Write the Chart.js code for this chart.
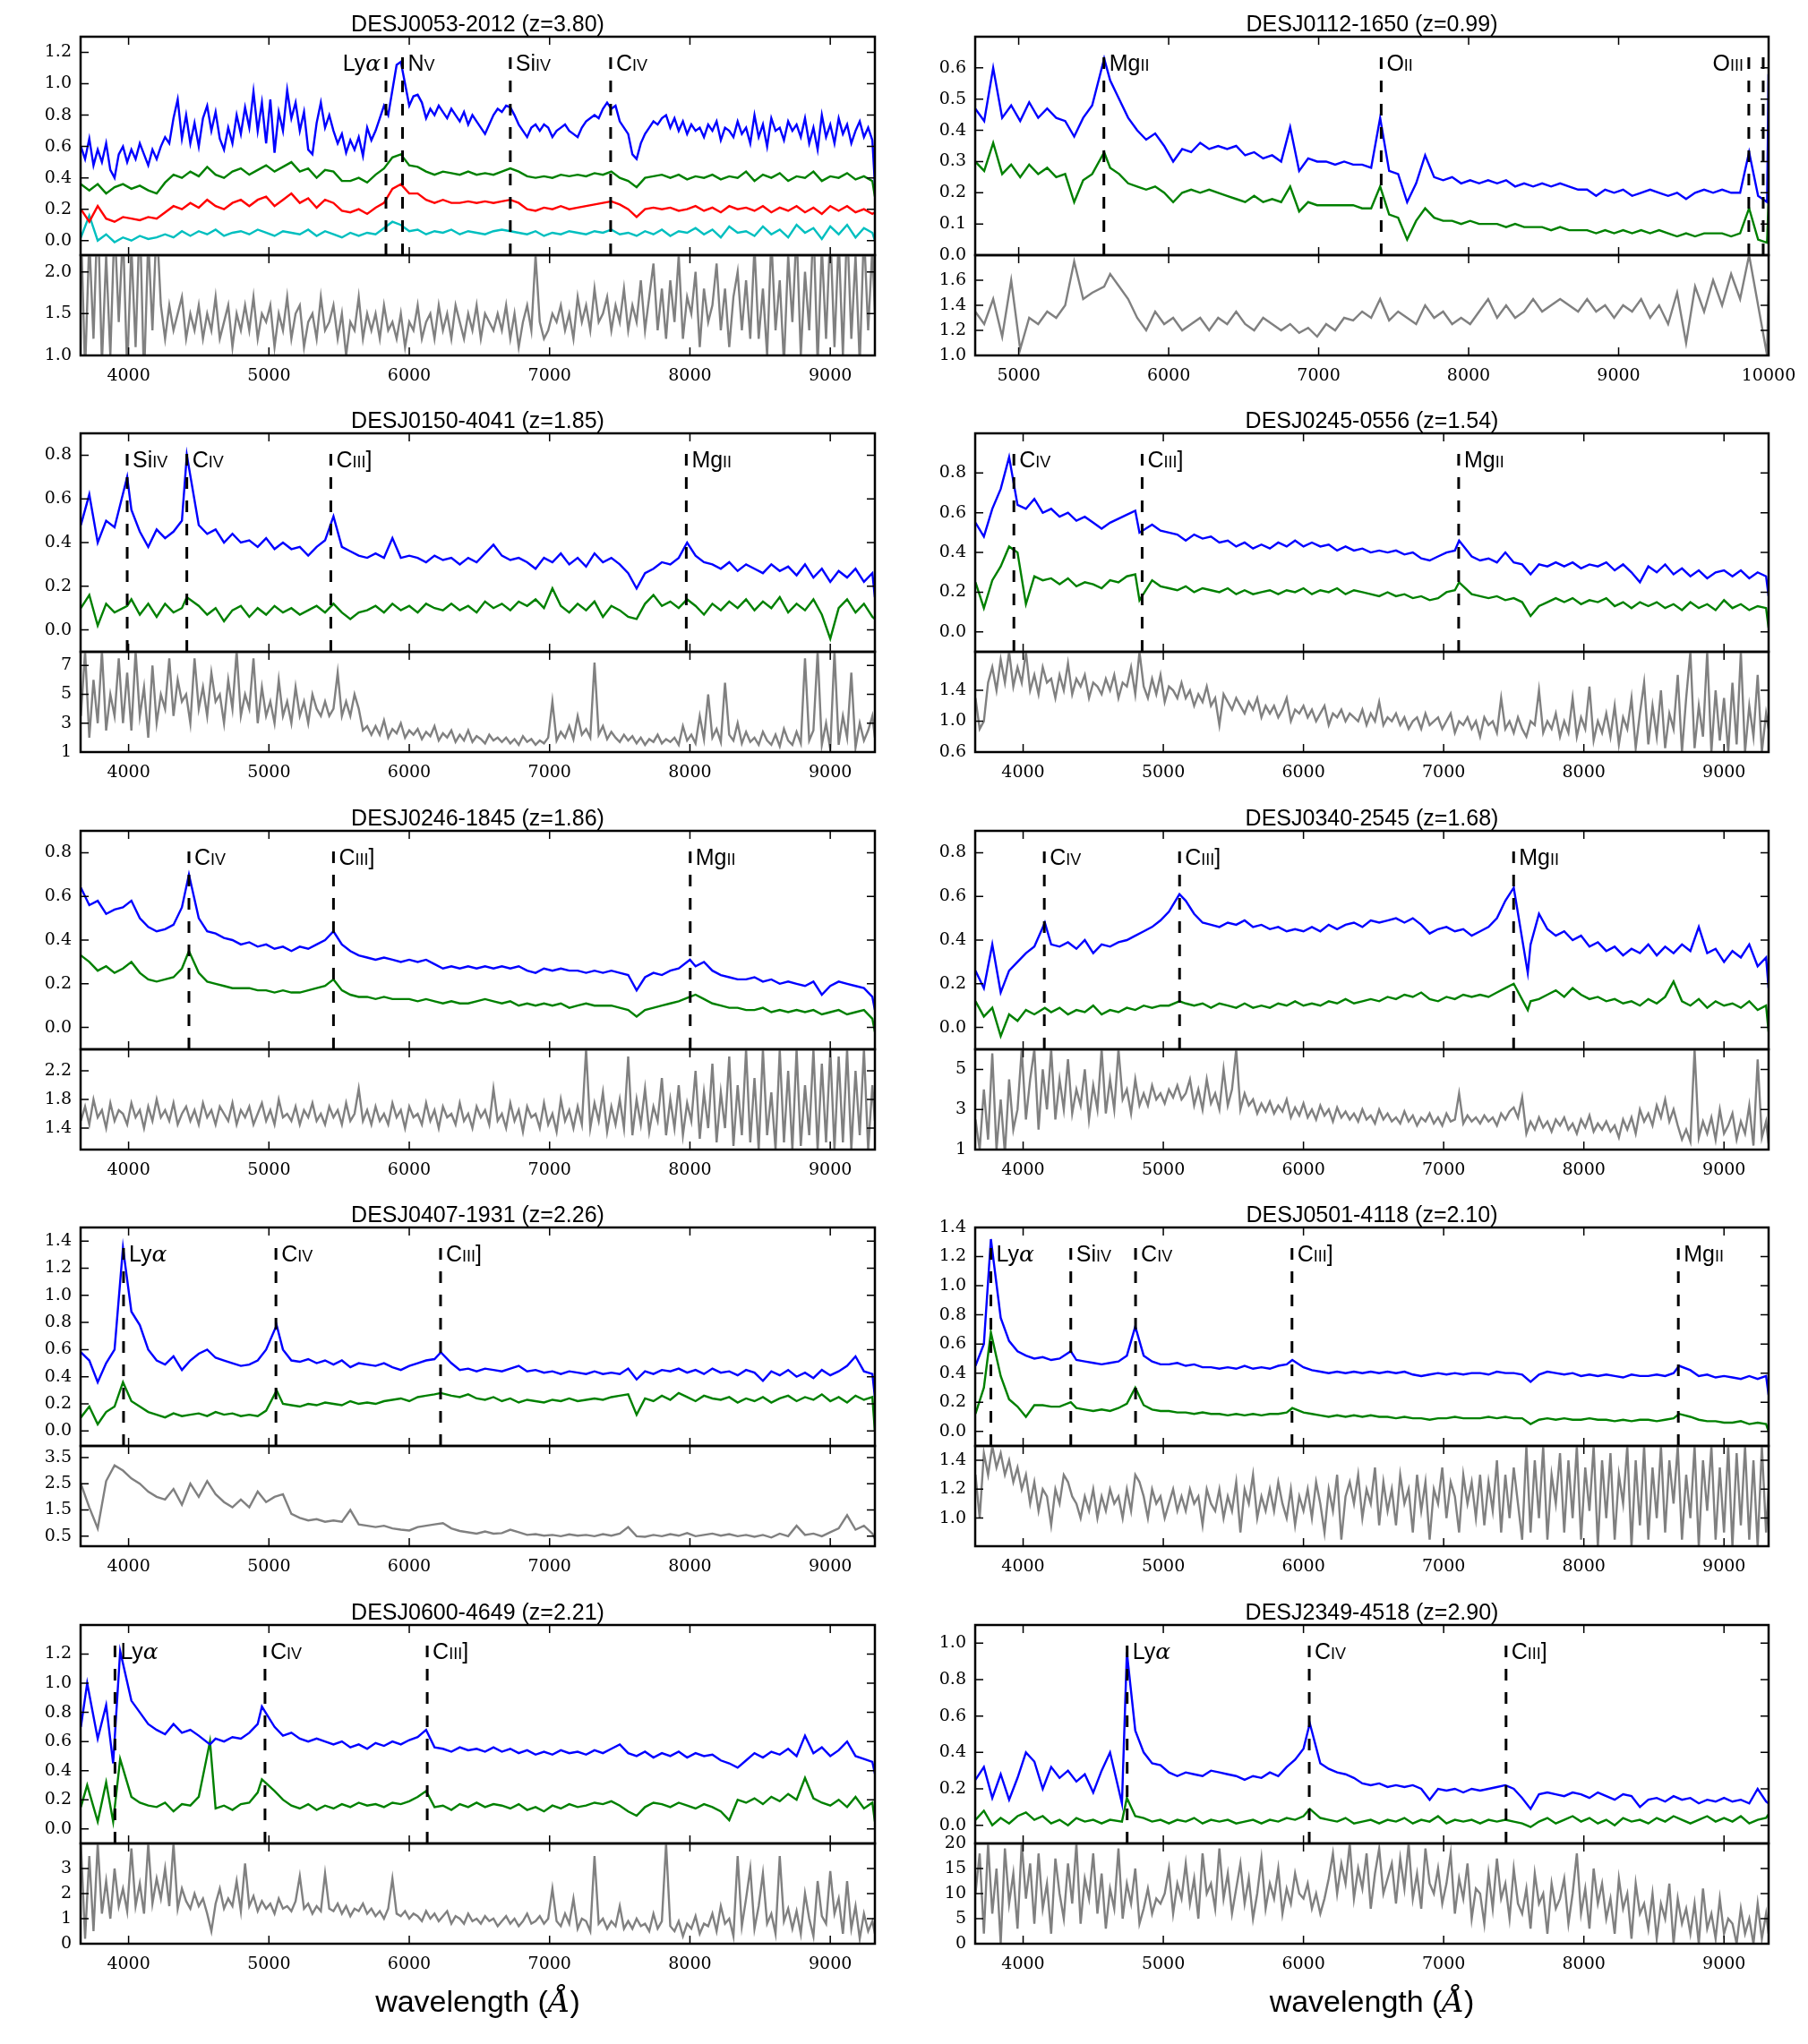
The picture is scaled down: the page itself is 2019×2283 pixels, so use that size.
<!DOCTYPE html>
<html>
<head>
<meta charset="utf-8">
<title>DES quasar spectra</title>
<script src="https://cdn.jsdelivr.net/npm/chart.js@4.4.1/dist/chart.umd.min.js"></script>
<style>
  html, body { margin: 0; padding: 0; background: #fff; overflow: hidden; }
  #page { position: relative; width: 2019px; height: 2283px; }
  #page canvas { position: absolute; }
  .title { position: absolute; width: 700px; text-align: center; font: 25px/25px "Liberation Sans", Arial, sans-serif; white-space: nowrap; }
  .xlabel { position: absolute; width: 700px; text-align: center; font: 34px/34px "Liberation Sans", Arial, sans-serif; white-space: nowrap; }
  .xlabel i { font-family: "DejaVu Serif", serif; }
</style>
</head>
<body>
<div id="page"></div>
<script>
// wavelength samples (Angstrom) shared by most panels
const WAVE = [3660, 3720, 3780, 3840, 3900, 3960, 4020, 4080, 4140, 4200,
  4260, 4320, 4380, 4440, 4500, 4560, 4620, 4680, 4740, 4800,
  4860, 4920, 4980, 5040, 5100, 5160, 5220, 5280, 5340, 5400,
  5460, 5520, 5580, 5640, 5700, 5760, 5820, 5880, 5940, 6000,
  6060, 6120, 6180, 6240, 6300, 6360, 6420, 6480, 6540, 6600,
  6660, 6720, 6780, 6840, 6900, 6960, 7020, 7080, 7140, 7200,
  7260, 7320, 7380, 7440, 7500, 7560, 7620, 7680, 7740, 7800,
  7860, 7920, 7980, 8040, 8100, 8160, 8220, 8280, 8340, 8400,
  8460, 8520, 8580, 8640, 8700, 8760, 8820, 8880, 8940, 9000,
  9060, 9120, 9180, 9240, 9300, 9318]

// finer samples for the noisiest curves
const RWAVE = [3660, 3690, 3720, 3750, 3780, 3810, 3840, 3870, 3900, 3930,
  3960, 3990, 4020, 4050, 4080, 4110, 4140, 4170, 4200, 4230,
  4260, 4290, 4320, 4350, 4380, 4410, 4440, 4470, 4500, 4530,
  4560, 4590, 4620, 4650, 4680, 4710, 4740, 4770, 4800, 4830,
  4860, 4890, 4920, 4950, 4980, 5010, 5040, 5070, 5100, 5130,
  5160, 5190, 5220, 5250, 5280, 5310, 5340, 5370, 5400, 5430,
  5460, 5490, 5520, 5550, 5580, 5610, 5640, 5670, 5700, 5730,
  5760, 5790, 5820, 5850, 5880, 5910, 5940, 5970, 6000, 6030,
  6060, 6090, 6120, 6150, 6180, 6210, 6240, 6270, 6300, 6330,
  6360, 6390, 6420, 6450, 6480, 6510, 6540, 6570, 6600, 6630,
  6660, 6690, 6720, 6750, 6780, 6810, 6840, 6870, 6900, 6930,
  6960, 6990, 7020, 7050, 7080, 7110, 7140, 7170, 7200, 7230,
  7260, 7290, 7320, 7350, 7380, 7410, 7440, 7470, 7500, 7530,
  7560, 7590, 7620, 7650, 7680, 7710, 7740, 7770, 7800, 7830,
  7860, 7890, 7920, 7950, 7980, 8010, 8040, 8070, 8100, 8130,
  8160, 8190, 8220, 8250, 8280, 8310, 8340, 8370, 8400, 8430,
  8460, 8490, 8520, 8550, 8580, 8610, 8640, 8670, 8700, 8730,
  8760, 8790, 8820, 8850, 8880, 8910, 8940, 8970, 9000, 9030,
  9060, 9090, 9120, 9150, 9180, 9210, 9240, 9270, 9300, 9318]

// DESJ0112-1650 has its own wavelength coverage
const WAVE_0112 = [4710, 4770, 4830, 4890, 4950, 5010, 5070, 5130, 5190, 5250,
  5310, 5370, 5430, 5490, 5570, 5610, 5670, 5730, 5790, 5850,
  5910, 5970, 6030, 6090, 6150, 6210, 6270, 6330, 6390, 6450,
  6510, 6570, 6630, 6690, 6750, 6810, 6870, 6930, 6990, 7050,
  7110, 7170, 7230, 7290, 7350, 7410, 7470, 7530, 7590, 7650,
  7710, 7770, 7830, 7890, 7950, 8010, 8070, 8130, 8190, 8250,
  8310, 8370, 8430, 8490, 8550, 8610, 8670, 8730, 8790, 8850,
  8910, 8970, 9030, 9090, 9150, 9210, 9270, 9330, 9390, 9450,
  9510, 9570, 9630, 9690, 9750, 9810, 9870, 9930, 9990, 10000]

// samples moved onto the emission-line peaks, [index, wavelength]
const FIX_0150 = [[5, 3990], [13, 4415]]
const FIX_0245 = [[20, 4830], [58, 7110]]
const FIX_0246 = [[13, 4430], [72, 8000]]
const FIX_0340 = [[8, 4155], [24, 5115], [65, 7600]]
const FIX_0407 = [[23, 5055], [43, 6225]]
const FIX_0501 = [[2, 3770], [11, 4340], [38, 5920], [84, 8680]]
const FIX_0600 = [[1, 3705], [4, 3890], [5, 3940], [15, 4580], [22, 4950]]
const FIX_2349 = [[17, 4705], [40, 6045]]

const XTICKS = [4000, 5000, 6000, 7000, 8000, 9000]
const XTICKS_0112 = [5000, 6000, 7000, 8000, 9000, 10000]

// line labels: [text, n = normal / s = small caps / m = math]
const LYA = [['Ly', 'n'], ['α', 'm']]
const NV = [['N', 'n'], ['V', 's']]
const SIIV = [['Si', 'n'], ['IV', 's']]
const CIV = [['C', 'n'], ['IV', 's']]
const CIII = [['C', 'n'], ['III', 's'], [']', 'n']]
const MGII = [['Mg', 'n'], ['II', 's']]
const OII = [['O', 'n'], ['II', 's']]
const OIII = [['O', 'n'], ['III', 's']]

//---------------------- DESJ0053-2012 (blue on the fine grid)
const J0053_BLUE = [0.60, 0.52, 0.65, 0.48, 0.58, 0.50, 0.62, 0.45, 0.40, 0.55,
  0.60, 0.50, 0.58, 0.52, 0.62, 0.55, 0.48, 0.58, 0.52, 0.60,
  0.66, 0.62, 0.78, 0.90, 0.65, 0.80, 0.62, 0.75, 0.60, 0.78,
  0.86, 0.70, 0.82, 0.65, 0.58, 0.72, 0.62, 0.80, 0.68, 0.85,
  0.72, 0.95, 0.70, 0.88, 0.62, 0.90, 0.56, 0.82, 0.70, 0.96,
  0.78, 0.88, 0.70, 0.82, 0.58, 0.55, 0.75, 0.88, 0.72, 0.80,
  0.70, 0.62, 0.68, 0.56, 0.64, 0.58, 0.66, 0.54, 0.72, 0.64,
  0.70, 0.78, 0.86, 0.80, 0.96, 1.12, 1.14, 1.00, 0.86, 0.92,
  0.93, 0.88, 0.78, 0.84, 0.80, 0.86, 0.82, 0.78, 0.84, 0.80,
  0.76, 0.82, 0.74, 0.80, 0.76, 0.72, 0.68, 0.74, 0.80, 0.84,
  0.82, 0.86, 0.85, 0.80, 0.74, 0.70, 0.66, 0.72, 0.74, 0.70,
  0.74, 0.72, 0.66, 0.70, 0.72, 0.74, 0.70, 0.68, 0.66, 0.72,
  0.76, 0.78, 0.80, 0.78, 0.84, 0.88, 0.84, 0.86, 0.76, 0.72,
  0.68, 0.55, 0.52, 0.62, 0.68, 0.72, 0.76, 0.74, 0.78, 0.80,
  0.72, 0.78, 0.70, 0.76, 0.68, 0.74, 0.70, 0.72, 0.66, 0.74,
  0.70, 0.76, 0.64, 0.72, 0.70, 0.66, 0.76, 0.68, 0.72, 0.62,
  0.80, 0.66, 0.74, 0.60, 0.78, 0.70, 0.72, 0.64, 0.76, 0.70,
  0.74, 0.66, 0.78, 0.62, 0.72, 0.58, 0.80, 0.66, 0.74, 0.62,
  0.78, 0.68, 0.74, 0.62, 0.70, 0.76, 0.66, 0.72, 0.64, 0.36]
const J0053_GREEN = [0.36, 0.32, 0.36, 0.30, 0.34, 0.36, 0.33, 0.35, 0.32, 0.30,
  0.37, 0.42, 0.40, 0.44, 0.41, 0.47, 0.42, 0.40, 0.44, 0.46,
  0.42, 0.45, 0.48, 0.44, 0.47, 0.50, 0.44, 0.46, 0.40, 0.45,
  0.44, 0.38, 0.38, 0.40, 0.37, 0.42, 0.46, 0.53, 0.55, 0.48,
  0.47, 0.44, 0.42, 0.44, 0.43, 0.42, 0.44, 0.42, 0.43, 0.42,
  0.44, 0.46, 0.44, 0.41, 0.40, 0.41, 0.40, 0.42, 0.41, 0.42,
  0.41, 0.43, 0.42, 0.44, 0.40, 0.38, 0.34, 0.40, 0.41, 0.42,
  0.40, 0.42, 0.39, 0.41, 0.40, 0.42, 0.39, 0.41, 0.40, 0.44,
  0.38, 0.42, 0.40, 0.43, 0.38, 0.41, 0.40, 0.44, 0.38, 0.41,
  0.40, 0.43, 0.39, 0.41, 0.38, 0.28]
const J0053_RED = [0.20, 0.12, 0.22, 0.14, 0.12, 0.15, 0.14, 0.13, 0.15, 0.14,
  0.18, 0.22, 0.20, 0.24, 0.21, 0.26, 0.22, 0.20, 0.24, 0.26,
  0.22, 0.26, 0.28, 0.22, 0.26, 0.30, 0.24, 0.27, 0.21, 0.26,
  0.24, 0.19, 0.18, 0.20, 0.17, 0.21, 0.24, 0.33, 0.36, 0.30,
  0.30, 0.26, 0.24, 0.26, 0.24, 0.24, 0.25, 0.24, 0.25, 0.24,
  0.25, 0.26, 0.24, 0.20, 0.19, 0.21, 0.20, 0.22, 0.20, 0.21,
  0.22, 0.23, 0.24, 0.25, 0.23, 0.20, 0.15, 0.20, 0.21, 0.20,
  0.21, 0.19, 0.20, 0.22, 0.19, 0.21, 0.18, 0.22, 0.20, 0.21,
  0.19, 0.22, 0.18, 0.21, 0.19, 0.22, 0.18, 0.21, 0.17, 0.22,
  0.19, 0.22, 0.18, 0.20, 0.17, 0.18]
const J0053_CYAN = [0.02, 0.16, 0.00, 0.04, -0.01, 0.02, 0.00, 0.03, 0.01, 0.02,
  0.04, 0.02, 0.06, 0.03, 0.06, 0.04, 0.07, 0.03, 0.05, 0.06,
  0.04, 0.07, 0.05, 0.03, 0.06, 0.05, 0.04, 0.07, 0.03, 0.06,
  0.04, 0.02, 0.05, 0.03, 0.05, 0.04, 0.08, 0.12, 0.10, 0.06,
  0.07, 0.04, 0.06, 0.05, 0.07, 0.04, 0.06, 0.05, 0.04, 0.06,
  0.07, 0.06, 0.05, 0.04, 0.06, 0.03, 0.05, 0.04, 0.06, 0.05,
  0.04, 0.06, 0.05, 0.07, 0.04, 0.05, 0.03, 0.06, 0.04, 0.07,
  0.03, 0.06, 0.05, 0.08, 0.04, 0.07, 0.02, 0.09, 0.05, 0.06,
  0.03, 0.09, 0.04, 0.07, 0.02, 0.10, 0.05, 0.08, 0.01, 0.09,
  0.04, 0.10, 0.02, 0.08, 0.05, 0.00]
const J0053_RATIO = [2.6, 0.8, 2.4, 1.2, 2.8, 0.9, 2.2, 1.0, 2.6, 1.4,
  2.5, 0.8, 2.3, 1.1, 2.7, 0.7, 2.4, 1.3, 2.6, 1.6,
  1.2, 1.6, 1.3, 1.5, 1.7, 1.2, 1.5, 1.3, 1.6, 1.2,
  1.5, 1.3, 1.7, 1.2, 1.4, 1.6, 1.1, 1.5, 1.3, 1.6,
  1.3, 1.7, 1.2, 1.5, 1.4, 1.6, 1.1, 1.5, 1.3, 1.7,
  1.2, 1.5, 1.6, 1.1, 1.4, 1.5, 1.2, 1.7, 1.3, 1.4,
  1.6, 1.2, 1.5, 1.0, 1.4, 1.3, 1.7, 1.2, 1.5, 1.3,
  1.5, 1.2, 1.6, 1.3, 1.4, 1.2, 1.5, 1.1, 1.4, 1.3,
  1.6, 1.2, 1.4, 1.5, 1.2, 1.6, 1.3, 1.5, 1.2, 1.6,
  1.4, 1.2, 1.5, 1.3, 1.6, 1.2, 1.5, 1.4, 1.3, 1.5,
  1.3, 1.6, 1.2, 1.5, 1.1, 1.4, 1.6, 1.3, 2.2, 1.4,
  1.2, 1.3, 1.5, 1.4, 1.6, 1.3, 1.5, 1.2, 1.7, 1.4,
  1.6, 1.3, 1.8, 1.4, 1.5, 1.7, 1.3, 1.6, 1.4, 1.8,
  1.3, 1.6, 1.4, 1.9, 1.3, 1.7, 2.1, 1.3, 1.8, 1.2,
  1.9, 1.4, 2.2, 1.2, 1.7, 1.5, 2.0, 1.1, 1.8, 1.4,
  1.6, 2.1, 1.3, 1.8, 1.1, 1.7, 2.0, 1.3, 1.9, 1.2,
  2.3, 1.2, 1.8, 1.0, 2.4, 1.3, 1.9, 0.9, 2.2, 1.4,
  2.5, 1.0, 2.0, 1.3, 2.6, 0.9, 2.3, 1.2, 2.5, 1.1,
  2.4, 1.0, 2.6, 1.2, 2.2, 0.9, 2.5, 1.3, 2.3, 1.5]
const J0053_LINES = [[5834, LYA, 'l'], [5952, NV, 'r'], [6720, SIIV, 'r'], [7435, CIV, 'r']]

//---------------------- DESJ0112-1650
const J0112_BLUE = [0.47, 0.43, 0.60, 0.44, 0.48, 0.43, 0.49, 0.44, 0.47, 0.44,
  0.43, 0.38, 0.44, 0.48, 0.63, 0.56, 0.50, 0.44, 0.40, 0.37,
  0.39, 0.35, 0.30, 0.34, 0.33, 0.36, 0.34, 0.35, 0.34, 0.35,
  0.32, 0.33, 0.31, 0.32, 0.30, 0.41, 0.27, 0.31, 0.30, 0.30,
  0.29, 0.30, 0.29, 0.29, 0.28, 0.44, 0.27, 0.26, 0.17, 0.23,
  0.32, 0.25, 0.24, 0.25, 0.23, 0.24, 0.23, 0.24, 0.23, 0.24,
  0.22, 0.23, 0.22, 0.23, 0.22, 0.23, 0.22, 0.21, 0.21, 0.19,
  0.21, 0.20, 0.21, 0.19, 0.20, 0.21, 0.20, 0.19, 0.20, 0.18,
  0.20, 0.21, 0.20, 0.21, 0.20, 0.20, 0.33, 0.19, 0.17, 0.58]
const J0112_GREEN = [0.30, 0.27, 0.36, 0.26, 0.29, 0.25, 0.29, 0.26, 0.28, 0.25,
  0.26, 0.17, 0.24, 0.26, 0.33, 0.28, 0.26, 0.23, 0.22, 0.21,
  0.22, 0.20, 0.17, 0.20, 0.21, 0.20, 0.21, 0.20, 0.19, 0.18,
  0.17, 0.19, 0.17, 0.18, 0.17, 0.22, 0.14, 0.17, 0.16, 0.16,
  0.16, 0.16, 0.16, 0.15, 0.15, 0.22, 0.13, 0.12, 0.05, 0.11,
  0.15, 0.12, 0.11, 0.11, 0.10, 0.11, 0.10, 0.10, 0.10, 0.09,
  0.10, 0.09, 0.09, 0.09, 0.08, 0.09, 0.08, 0.08, 0.08, 0.07,
  0.08, 0.07, 0.08, 0.07, 0.08, 0.07, 0.08, 0.07, 0.06, 0.07,
  0.06, 0.07, 0.07, 0.07, 0.06, 0.07, 0.15, 0.05, 0.04, 0.18]
const J0112_RATIO = [1.35, 1.25, 1.45, 1.15, 1.60, 1.05, 1.30, 1.25, 1.35, 1.30,
  1.40, 1.75, 1.45, 1.50, 1.55, 1.65, 1.55, 1.45, 1.30, 1.20,
  1.35, 1.25, 1.30, 1.20, 1.25, 1.30, 1.20, 1.30, 1.25, 1.35,
  1.25, 1.20, 1.30, 1.25, 1.20, 1.25, 1.18, 1.22, 1.15, 1.25,
  1.20, 1.30, 1.28, 1.35, 1.30, 1.45, 1.28, 1.35, 1.30, 1.25,
  1.40, 1.30, 1.35, 1.25, 1.30, 1.25, 1.35, 1.45, 1.30, 1.40,
  1.30, 1.35, 1.45, 1.35, 1.40, 1.45, 1.40, 1.35, 1.45, 1.35,
  1.40, 1.30, 1.40, 1.35, 1.45, 1.30, 1.40, 1.25, 1.50, 1.10,
  1.55, 1.35, 1.60, 1.40, 1.65, 1.45, 1.80, 1.40, 1.00, 1.60]
const J0112_LINES = [[5568, MGII, 'r'], [7417, OII, 'r'], [9868, OIII, 'l'], [9964, null, 'r']]

//---------------------- DESJ0150-4041
const J0150_BLUE = [0.48, 0.62, 0.40, 0.50, 0.47, 0.70, 0.55, 0.45, 0.38, 0.46,
  0.42, 0.45, 0.50, 0.80, 0.48, 0.44, 0.46, 0.40, 0.44, 0.40,
  0.41, 0.38, 0.42, 0.37, 0.40, 0.37, 0.38, 0.34, 0.38, 0.41,
  0.52, 0.38, 0.36, 0.34, 0.33, 0.35, 0.33, 0.42, 0.33, 0.34,
  0.33, 0.31, 0.34, 0.32, 0.33, 0.30, 0.33, 0.31, 0.35, 0.39,
  0.34, 0.32, 0.33, 0.31, 0.28, 0.33, 0.31, 0.35, 0.30, 0.33,
  0.29, 0.35, 0.31, 0.33, 0.30, 0.26, 0.19, 0.26, 0.28, 0.31,
  0.30, 0.33, 0.40, 0.34, 0.31, 0.30, 0.28, 0.31, 0.27, 0.30,
  0.28, 0.26, 0.30, 0.27, 0.29, 0.25, 0.30, 0.24, 0.28, 0.22,
  0.27, 0.24, 0.28, 0.22, 0.26, 0.15]
const J0150_GREEN = [0.10, 0.16, 0.02, 0.12, 0.08, 0.11, 0.14, 0.07, 0.12, 0.06,
  0.12, 0.08, 0.10, 0.15, 0.11, 0.07, 0.10, 0.04, 0.09, 0.11,
  0.06, 0.10, 0.07, 0.11, 0.08, 0.10, 0.07, 0.09, 0.11, 0.08,
  0.12, 0.08, 0.05, 0.08, 0.09, 0.11, 0.08, 0.12, 0.09, 0.11,
  0.08, 0.12, 0.10, 0.09, 0.12, 0.09, 0.11, 0.08, 0.13, 0.10,
  0.12, 0.09, 0.13, 0.11, 0.14, 0.10, 0.19, 0.11, 0.08, 0.12,
  0.09, 0.13, 0.06, 0.11, 0.09, 0.06, 0.05, 0.12, 0.16, 0.11,
  0.13, 0.10, 0.14, 0.11, 0.07, 0.12, 0.09, 0.13, 0.10, 0.14,
  0.09, 0.13, 0.10, 0.15, 0.08, 0.12, 0.09, 0.14, 0.07, -0.04,
  0.10, 0.14, 0.08, 0.12, 0.06, 0.05]
const J0150_RATIO = [3.5, 8.0, 2.0, 6.0, 3.0, 8.0, 2.5, 5.0, 3.5, 7.5,
  3.0, 6.5, 2.5, 8.0, 3.5, 5.5, 2.0, 7.0, 3.0, 5.0,
  4.0, 7.5, 3.5, 6.0, 4.5, 5.0, 3.0, 7.5, 4.0, 5.5,
  3.5, 6.5, 4.5, 5.0, 3.0, 6.0, 4.0, 8.0, 3.5, 5.0,
  4.0, 7.5, 3.0, 5.5, 3.5, 4.5, 3.0, 6.0, 3.5, 4.5,
  3.0, 5.5, 3.5, 4.5, 3.0, 5.0, 4.0, 3.5, 4.5, 3.5,
  4.0, 6.5, 3.5, 4.5, 3.5, 5.0, 4.0, 2.5, 2.8, 2.2,
  2.8, 2.2, 3.2, 2.0, 2.6, 2.3, 3.0, 2.0, 2.5, 2.2,
  2.6, 1.9, 2.4, 2.1, 2.8, 1.8, 2.3, 2.0, 2.5, 1.7,
  2.2, 1.8, 2.5, 1.7, 2.1, 1.9, 1.6, 2.2, 1.8, 2.0,
  1.7, 2.0, 1.6, 1.9, 1.5, 2.1, 1.7, 1.9, 1.5, 1.8,
  1.6, 2.0, 4.5, 1.8, 2.4, 2.0, 2.8, 1.9, 3.5, 2.2,
  2.6, 2.0, 7.2, 2.2, 2.8, 1.9, 2.4, 2.0, 1.7, 2.2,
  1.8, 2.1, 1.6, 2.0, 1.5, 1.9, 1.7, 2.2, 1.6, 1.9,
  1.7, 2.0, 1.5, 2.8, 1.8, 2.2, 1.6, 3.5, 1.9, 5.0,
  2.0, 2.6, 1.7, 5.8, 2.2, 1.8, 3.0, 1.6, 2.4, 1.7,
  2.0, 1.5, 2.4, 1.8, 1.5, 2.2, 1.4, 2.6, 1.8, 1.5,
  2.4, 1.6, 7.5, 1.8, 2.5, 8.0, 1.5, 3.0, 1.2, 8.0,
  1.5, 3.5, 2.0, 6.5, 1.3, 3.0, 1.8, 2.5, 3.5, 2.0]
const J0150_LINES = [[3990, SIIV, 'r'], [4415, CIV, 'r'], [5441, CIII, 'r'], [7974, MGII, 'r']]

//---------------------- DESJ0245-0556
const J0245_BLUE = [0.55, 0.48, 0.62, 0.72, 0.88, 0.64, 0.62, 0.67, 0.60, 0.62,
  0.58, 0.60, 0.56, 0.58, 0.55, 0.52, 0.55, 0.57, 0.59, 0.61,
  0.50, 0.54, 0.51, 0.50, 0.49, 0.46, 0.49, 0.47, 0.48, 0.45,
  0.46, 0.43, 0.45, 0.42, 0.44, 0.42, 0.45, 0.43, 0.46, 0.43,
  0.45, 0.43, 0.44, 0.41, 0.43, 0.41, 0.42, 0.40, 0.41, 0.40,
  0.41, 0.39, 0.40, 0.37, 0.36, 0.38, 0.40, 0.41, 0.46, 0.38,
  0.36, 0.37, 0.35, 0.40, 0.35, 0.34, 0.29, 0.34, 0.33, 0.35,
  0.33, 0.35, 0.32, 0.34, 0.33, 0.35, 0.31, 0.34, 0.30, 0.25,
  0.33, 0.30, 0.34, 0.29, 0.32, 0.28, 0.31, 0.27, 0.30, 0.31,
  0.28, 0.31, 0.27, 0.30, 0.28, 0.18]
const J0245_GREEN = [0.25, 0.12, 0.26, 0.33, 0.43, 0.40, 0.14, 0.28, 0.26, 0.27,
  0.24, 0.27, 0.23, 0.25, 0.24, 0.22, 0.26, 0.25, 0.28, 0.29,
  0.16, 0.26, 0.23, 0.22, 0.21, 0.23, 0.20, 0.22, 0.21, 0.20,
  0.22, 0.19, 0.21, 0.19, 0.20, 0.21, 0.19, 0.21, 0.20, 0.22,
  0.19, 0.21, 0.20, 0.22, 0.19, 0.21, 0.20, 0.19, 0.18, 0.20,
  0.18, 0.19, 0.17, 0.18, 0.16, 0.17, 0.20, 0.21, 0.25, 0.19,
  0.18, 0.17, 0.18, 0.16, 0.17, 0.15, 0.08, 0.13, 0.15, 0.17,
  0.15, 0.17, 0.14, 0.16, 0.15, 0.17, 0.13, 0.15, 0.12, 0.15,
  0.13, 0.15, 0.12, 0.14, 0.11, 0.15, 0.12, 0.14, 0.11, 0.16,
  0.12, 0.14, 0.11, 0.13, 0.12, 0.02]
const J0245_RATIO = [1.3, 0.9, 1.0, 1.5, 1.7, 1.4, 1.8, 1.5, 1.9, 1.45,
  1.7, 1.5, 1.9, 1.4, 1.6, 1.35, 1.7, 1.5, 1.55, 1.3,
  1.6, 1.4, 1.75, 1.35, 1.55, 1.45, 1.6, 1.3, 1.5, 1.45,
  1.35, 1.55, 1.4, 1.6, 1.3, 1.5, 1.45, 1.7, 1.35, 1.9,
  1.45, 1.3, 1.55, 1.35, 1.6, 1.25, 1.45, 1.4, 1.3, 1.5,
  1.3, 1.4, 1.2, 1.35, 1.25, 1.45, 1.2, 1.3, 0.95, 1.35,
  1.25, 1.15, 1.3, 1.2, 1.1, 1.25, 1.15, 1.3, 1.05, 1.2,
  1.1, 1.2, 1.05, 1.15, 1.3, 1.0, 1.15, 1.1, 1.2, 1.05,
  1.15, 1.0, 1.1, 1.2, 0.95, 1.1, 1.05, 1.15, 1.0, 1.1,
  1.05, 1.0, 1.15, 0.95, 1.1, 1.0, 1.25, 0.95, 1.05, 1.0,
  1.1, 0.95, 1.05, 0.9, 1.0, 1.05, 0.9, 1.1, 0.95, 1.0,
  1.05, 0.9, 1.0, 1.1, 0.85, 1.0, 0.95, 1.05, 0.9, 1.0,
  0.8, 1.05, 0.95, 1.0, 0.85, 1.3, 0.9, 1.0, 0.85, 1.05,
  0.9, 0.8, 1.0, 0.95, 1.4, 0.85, 1.0, 0.9, 1.1, 0.8,
  1.0, 0.85, 1.3, 0.8, 1.05, 0.9, 1.45, 0.75, 1.0, 0.85,
  1.1, 0.8, 1.2, 0.7, 1.05, 0.9, 1.3, 0.65, 1.1, 1.5,
  0.7, 1.2, 0.8, 1.4, 0.65, 1.1, 0.9, 1.6, 0.6, 1.3,
  1.9, 0.65, 1.2, 0.8, 1.9, 0.6, 1.4, 0.75, 1.3, 0.6,
  1.5, 0.7, 1.9, 0.6, 1.2, 0.8, 1.6, 0.6, 1.1, 0.9]
const J0245_LINES = [[3934, CIV, 'r'], [4849, CIII, 'r'], [7107, MGII, 'r']]

//---------------------- DESJ0246-1845
const J0246_BLUE = [0.64, 0.56, 0.58, 0.52, 0.54, 0.55, 0.58, 0.50, 0.46, 0.44,
  0.45, 0.47, 0.55, 0.70, 0.50, 0.44, 0.43, 0.41, 0.40, 0.38,
  0.39, 0.37, 0.38, 0.36, 0.37, 0.35, 0.37, 0.36, 0.38, 0.40,
  0.44, 0.38, 0.35, 0.33, 0.32, 0.31, 0.32, 0.31, 0.30, 0.31,
  0.30, 0.31, 0.29, 0.27, 0.28, 0.27, 0.28, 0.27, 0.28, 0.27,
  0.28, 0.27, 0.28, 0.26, 0.25, 0.27, 0.26, 0.27, 0.26, 0.26,
  0.25, 0.26, 0.25, 0.26, 0.25, 0.24, 0.17, 0.23, 0.25, 0.24,
  0.26, 0.27, 0.31, 0.28, 0.30, 0.26, 0.24, 0.23, 0.22, 0.22,
  0.23, 0.21, 0.22, 0.20, 0.21, 0.20, 0.19, 0.21, 0.15, 0.19,
  0.21, 0.20, 0.19, 0.18, 0.14, 0.08]
const J0246_GREEN = [0.33, 0.30, 0.26, 0.28, 0.25, 0.27, 0.30, 0.25, 0.22, 0.21,
  0.22, 0.23, 0.27, 0.35, 0.25, 0.21, 0.20, 0.19, 0.18, 0.18,
  0.18, 0.17, 0.17, 0.16, 0.17, 0.16, 0.16, 0.17, 0.18, 0.19,
  0.22, 0.17, 0.15, 0.14, 0.14, 0.13, 0.14, 0.13, 0.13, 0.13,
  0.12, 0.13, 0.12, 0.11, 0.12, 0.11, 0.11, 0.12, 0.13, 0.12,
  0.11, 0.12, 0.10, 0.11, 0.10, 0.11, 0.10, 0.11, 0.09, 0.10,
  0.11, 0.10, 0.10, 0.10, 0.09, 0.08, 0.05, 0.08, 0.09, 0.10,
  0.11, 0.12, 0.14, 0.15, 0.13, 0.11, 0.10, 0.09, 0.09, 0.08,
  0.08, 0.09, 0.07, 0.08, 0.07, 0.08, 0.07, 0.08, 0.06, 0.07,
  0.08, 0.06, 0.07, 0.08, 0.04, -0.02]
const J0246_RATIO = [1.5, 1.7, 1.45, 1.8, 1.55, 1.65, 1.4, 1.75, 1.5, 1.65,
  1.6, 1.45, 1.75, 1.55, 1.65, 1.4, 1.7, 1.5, 1.8, 1.55,
  1.65, 1.5, 1.75, 1.45, 1.6, 1.7, 1.5, 1.65, 1.45, 1.75,
  1.55, 1.65, 1.45, 1.7, 1.6, 1.5, 1.75, 1.45, 1.65, 1.55,
  1.7, 1.45, 1.6, 1.75, 1.5, 1.65, 1.45, 1.8, 1.55, 1.6,
  1.5, 1.7, 1.45, 1.65, 1.55, 1.75, 1.5, 1.6, 1.45, 1.7,
  1.55, 1.65, 1.45, 1.75, 1.5, 1.6, 1.95, 1.5, 1.65, 1.45,
  1.7, 1.5, 1.6, 1.45, 1.75, 1.55, 1.65, 1.4, 1.7, 1.55,
  1.6, 1.45, 1.75, 1.5, 1.65, 1.4, 1.7, 1.55, 1.6, 1.45,
  1.75, 1.5, 1.6, 1.4, 1.7, 1.55, 1.65, 1.45, 1.95, 1.5,
  1.6, 1.4, 1.75, 1.5, 1.65, 1.35, 1.7, 1.55, 1.6, 1.4,
  1.75, 1.45, 1.6, 1.35, 1.8, 1.5, 1.65, 1.4, 1.7, 1.45,
  2.5, 1.4, 1.75, 1.5, 1.9, 1.35, 1.7, 1.45, 1.8, 1.4,
  2.4, 1.3, 1.8, 1.45, 1.95, 1.35, 1.7, 1.5, 2.1, 1.3,
  1.8, 1.4, 2.0, 1.3, 1.75, 1.5, 2.2, 1.25, 1.9, 1.4,
  2.3, 1.2, 1.9, 1.4, 2.4, 1.15, 2.0, 1.3, 2.5, 1.2,
  2.1, 1.1, 2.5, 1.3, 1.9, 1.1, 2.5, 1.2, 2.2, 1.1,
  2.5, 1.15, 2.0, 1.3, 2.5, 1.1, 2.3, 1.2, 2.5, 1.1,
  2.4, 1.2, 2.5, 1.1, 2.2, 1.3, 2.5, 1.1, 2.0, 1.5]
const J0246_LINES = [[4430, CIV, 'r'], [5460, CIII, 'r'], [8002, MGII, 'r']]

//---------------------- DESJ0340-2545
const J0340_BLUE = [0.26, 0.18, 0.38, 0.16, 0.26, 0.30, 0.34, 0.37, 0.48, 0.38,
  0.37, 0.39, 0.36, 0.40, 0.34, 0.38, 0.37, 0.39, 0.40, 0.42,
  0.44, 0.46, 0.49, 0.53, 0.61, 0.58, 0.52, 0.48, 0.47, 0.46,
  0.48, 0.47, 0.49, 0.46, 0.47, 0.45, 0.46, 0.44, 0.45, 0.44,
  0.46, 0.44, 0.47, 0.45, 0.47, 0.48, 0.46, 0.49, 0.48, 0.49,
  0.50, 0.48, 0.50, 0.47, 0.43, 0.45, 0.46, 0.44, 0.45, 0.42,
  0.44, 0.46, 0.50, 0.58, 0.64, 0.25, 0.38, 0.52, 0.45, 0.42,
  0.44, 0.40, 0.42, 0.37, 0.39, 0.35, 0.37, 0.33, 0.36, 0.34,
  0.38, 0.33, 0.37, 0.34, 0.38, 0.35, 0.46, 0.34, 0.36, 0.30,
  0.35, 0.32, 0.38, 0.28, 0.32, 0.18]
const J0340_GREEN = [0.12, 0.05, 0.09, -0.04, 0.06, 0.03, 0.08, 0.06, 0.09, 0.07,
  0.09, 0.06, 0.08, 0.07, 0.10, 0.06, 0.08, 0.07, 0.09, 0.08,
  0.10, 0.09, 0.10, 0.10, 0.12, 0.11, 0.10, 0.11, 0.09, 0.11,
  0.10, 0.09, 0.11, 0.09, 0.10, 0.09, 0.11, 0.10, 0.12, 0.10,
  0.11, 0.10, 0.12, 0.11, 0.13, 0.11, 0.12, 0.13, 0.12, 0.14,
  0.13, 0.15, 0.14, 0.16, 0.13, 0.12, 0.14, 0.13, 0.15, 0.14,
  0.15, 0.14, 0.16, 0.18, 0.20, 0.08, 0.12, 0.13, 0.15, 0.17,
  0.14, 0.18, 0.15, 0.13, 0.14, 0.12, 0.13, 0.11, 0.12, 0.10,
  0.13, 0.11, 0.14, 0.21, 0.12, 0.10, 0.13, 0.09, 0.12, 0.10,
  0.11, 0.09, 0.12, 0.08, 0.10, -0.02]
const J0340_RATIO = [2.5, 1.0, 4.0, 1.5, 5.8, 1.0, 3.5, 0.8, 4.5, 2.0,
  3.0, 6.0, 2.5, 4.5, 6.0, 2.0, 5.0, 3.0, 6.0, 2.5,
  4.5, 3.0, 5.5, 2.8, 4.0, 3.2, 5.0, 2.5, 4.2, 3.0,
  6.0, 2.8, 4.5, 3.0, 6.0, 3.5, 4.0, 2.8, 4.5, 3.2,
  3.8, 3.2, 4.2, 3.5, 3.8, 3.3, 4.0, 3.6, 4.2, 3.5,
  3.8, 4.5, 3.2, 4.0, 3.0, 4.5, 3.3, 3.8, 3.0, 5.0,
  3.2, 4.0, 6.0, 3.0, 3.8, 3.2, 3.5, 2.8, 3.3, 2.9,
  3.4, 2.8, 3.2, 2.9, 3.5, 2.6, 3.1, 2.7, 3.3, 2.6,
  3.0, 2.5, 3.2, 2.7, 3.0, 2.4, 3.1, 2.6, 2.9, 2.5,
  2.8, 2.4, 3.0, 2.5, 2.7, 2.3, 3.0, 2.5, 2.8, 2.4,
  2.6, 2.3, 2.9, 2.4, 2.7, 2.2, 2.6, 2.4, 2.8, 2.3,
  2.6, 2.2, 2.8, 2.4, 2.5, 3.8, 2.3, 2.7, 2.4, 2.6,
  2.3, 2.7, 2.4, 2.6, 2.2, 2.8, 2.5, 2.9, 3.1, 2.6,
  3.6, 1.8, 2.4, 2.0, 2.6, 2.1, 2.4, 1.9, 2.5, 2.2,
  2.6, 2.0, 2.3, 1.8, 2.5, 2.1, 2.7, 1.9, 2.3, 2.0,
  2.4, 1.9, 2.2, 1.6, 2.5, 2.0, 2.6, 1.8, 3.0, 2.4,
  2.8, 2.2, 3.2, 2.6, 3.5, 2.4, 3.0, 2.2, 1.5, 2.0,
  1.4, 6.0, 1.6, 2.4, 1.8, 2.6, 1.5, 3.0, 1.8, 2.2,
  2.8, 1.5, 2.4, 1.8, 3.2, 1.2, 5.5, 1.6, 2.4, 1.3]
const J0340_LINES = [[4151, CIV, 'r'], [5116, CIII, 'r'], [7499, MGII, 'r']]

//---------------------- DESJ0407-1931
const J0407_BLUE = [0.58, 0.52, 0.36, 0.50, 0.60, 1.35, 0.88, 0.78, 0.60, 0.52,
  0.49, 0.55, 0.45, 0.52, 0.57, 0.60, 0.54, 0.52, 0.50, 0.48,
  0.49, 0.52, 0.60, 0.78, 0.60, 0.52, 0.51, 0.53, 0.50, 0.52,
  0.49, 0.52, 0.47, 0.50, 0.49, 0.48, 0.50, 0.47, 0.45, 0.48,
  0.50, 0.52, 0.53, 0.58, 0.50, 0.45, 0.46, 0.44, 0.46, 0.45,
  0.44, 0.46, 0.48, 0.44, 0.45, 0.43, 0.44, 0.42, 0.44, 0.43,
  0.42, 0.44, 0.42, 0.43, 0.42, 0.46, 0.38, 0.44, 0.42, 0.45,
  0.44, 0.46, 0.43, 0.45, 0.42, 0.46, 0.43, 0.44, 0.41, 0.45,
  0.43, 0.37, 0.44, 0.41, 0.45, 0.40, 0.43, 0.39, 0.45, 0.41,
  0.44, 0.48, 0.55, 0.44, 0.42, 0.25]
const J0407_GREEN = [0.10, 0.18, 0.05, 0.14, 0.18, 0.36, 0.22, 0.18, 0.14, 0.12,
  0.10, 0.13, 0.11, 0.12, 0.13, 0.11, 0.14, 0.12, 0.13, 0.11,
  0.12, 0.11, 0.15, 0.30, 0.20, 0.19, 0.18, 0.20, 0.19, 0.21,
  0.20, 0.19, 0.22, 0.20, 0.21, 0.20, 0.22, 0.23, 0.24, 0.22,
  0.25, 0.26, 0.27, 0.28, 0.26, 0.25, 0.27, 0.24, 0.23, 0.25,
  0.22, 0.24, 0.21, 0.23, 0.22, 0.21, 0.23, 0.22, 0.24, 0.22,
  0.23, 0.24, 0.23, 0.25, 0.26, 0.27, 0.12, 0.24, 0.22, 0.26,
  0.23, 0.28, 0.25, 0.22, 0.26, 0.24, 0.23, 0.25, 0.21, 0.24,
  0.22, 0.25, 0.21, 0.24, 0.26, 0.22, 0.25, 0.23, 0.27, 0.22,
  0.25, 0.21, 0.26, 0.23, 0.25, 0.00]
const J0407_RATIO = [2.5, 1.6, 0.8, 2.6, 3.2, 3.0, 2.7, 2.5, 2.2, 2.0,
  1.9, 2.3, 1.7, 2.5, 2.0, 2.6, 2.1, 1.8, 1.6, 1.9,
  1.6, 2.2, 1.8, 2.0, 2.1, 1.35, 1.2, 1.1, 1.15, 1.05,
  1.1, 1.05, 1.5, 0.95, 0.9, 0.85, 0.9, 0.8, 0.75, 0.72,
  0.85, 0.9, 0.95, 1.0, 0.8, 0.7, 0.65, 0.6, 0.68, 0.6,
  0.62, 0.75, 0.65, 0.55, 0.58, 0.52, 0.55, 0.5, 0.57, 0.52,
  0.55, 0.5, 0.58, 0.52, 0.6, 0.85, 0.5, 0.48, 0.55, 0.5,
  0.58, 0.52, 0.62, 0.5, 0.55, 0.6, 0.52, 0.58, 0.5, 0.55,
  0.48, 0.55, 0.45, 0.6, 0.5, 0.9, 0.55, 0.6, 0.5, 0.65,
  0.8, 1.3, 0.75, 0.9, 0.6, 0.4]
const J0407_LINES = [[3964, LYA, 'r'], [5050, CIV, 'r'], [6223, CIII, 'r']]

//---------------------- DESJ0501-4118
const J0501_BLUE = [0.45, 0.60, 1.32, 0.78, 0.62, 0.55, 0.52, 0.50, 0.51, 0.49,
  0.50, 0.55, 0.49, 0.48, 0.47, 0.46, 0.47, 0.48, 0.52, 0.72,
  0.52, 0.48, 0.46, 0.46, 0.47, 0.45, 0.46, 0.44, 0.44, 0.43,
  0.44, 0.43, 0.45, 0.43, 0.44, 0.43, 0.45, 0.46, 0.49, 0.44,
  0.42, 0.41, 0.40, 0.41, 0.40, 0.41, 0.40, 0.41, 0.40, 0.41,
  0.40, 0.41, 0.39, 0.38, 0.39, 0.40, 0.39, 0.40, 0.39, 0.40,
  0.40, 0.39, 0.41, 0.40, 0.40, 0.39, 0.34, 0.39, 0.41, 0.40,
  0.39, 0.40, 0.38, 0.39, 0.38, 0.39, 0.38, 0.37, 0.39, 0.38,
  0.38, 0.39, 0.38, 0.40, 0.45, 0.42, 0.38, 0.39, 0.37, 0.38,
  0.37, 0.36, 0.38, 0.36, 0.38, 0.25]
const J0501_GREEN = [0.12, 0.30, 0.68, 0.38, 0.22, 0.17, 0.10, 0.18, 0.18, 0.17,
  0.17, 0.20, 0.16, 0.15, 0.14, 0.15, 0.14, 0.16, 0.19, 0.30,
  0.18, 0.15, 0.14, 0.14, 0.13, 0.13, 0.12, 0.13, 0.12, 0.12,
  0.11, 0.12, 0.11, 0.12, 0.11, 0.12, 0.12, 0.13, 0.16, 0.13,
  0.12, 0.11, 0.10, 0.11, 0.10, 0.11, 0.10, 0.11, 0.10, 0.10,
  0.09, 0.10, 0.09, 0.09, 0.08, 0.09, 0.09, 0.10, 0.09, 0.09,
  0.09, 0.10, 0.09, 0.10, 0.09, 0.09, 0.05, 0.08, 0.09, 0.08,
  0.09, 0.08, 0.08, 0.09, 0.08, 0.08, 0.07, 0.08, 0.07, 0.08,
  0.08, 0.07, 0.08, 0.09, 0.12, 0.10, 0.08, 0.07, 0.07, 0.06,
  0.06, 0.07, 0.05, 0.06, 0.05, 0.00]
const J0501_RATIO = [1.3, 1.0, 1.45, 1.3, 1.5, 1.35, 1.45, 1.3, 1.4, 1.25,
  1.35, 1.2, 1.3, 1.1, 1.25, 1.05, 1.2, 1.15, 0.95, 1.2,
  1.1, 1.3, 1.25, 1.15, 1.1, 1.0, 1.15, 1.05, 1.2, 1.0,
  1.15, 1.05, 1.2, 1.1, 1.15, 1.0, 1.2, 1.05, 1.3, 1.25,
  1.15, 1.0, 1.2, 1.1, 1.15, 1.0, 1.1, 1.2, 1.05, 1.15,
  1.05, 1.2, 1.1, 1.15, 0.95, 1.2, 1.1, 1.05, 1.2, 1.0,
  1.15, 1.05, 1.25, 0.9, 1.2, 1.1, 1.3, 1.0, 1.15, 1.05,
  1.2, 1.05, 1.25, 1.1, 1.0, 1.2, 0.95, 1.15, 1.05, 1.2,
  1.0, 1.25, 1.1, 0.9, 1.2, 1.05, 1.3, 0.85, 1.15, 1.25,
  1.1, 1.3, 1.0, 1.2, 1.1, 1.35, 0.95, 1.25, 1.05, 1.2,
  0.95, 1.3, 1.1, 1.2, 0.9, 1.3, 1.05, 1.25, 0.85, 1.2,
  1.1, 1.35, 1.0, 1.25, 1.15, 0.9, 1.3, 1.1, 1.25, 1.0,
  1.3, 0.95, 1.25, 1.05, 1.4, 0.9, 1.3, 1.0, 1.35, 1.1,
  0.85, 1.5, 0.9, 1.4, 1.0, 1.5, 0.85, 1.3, 1.1, 1.45,
  0.9, 1.4, 1.0, 1.5, 0.85, 1.35, 1.05, 1.5, 0.8, 1.4,
  1.0, 1.45, 0.85, 1.3, 1.1, 1.5, 0.8, 1.4, 0.95, 1.5,
  0.85, 1.35, 1.0, 1.5, 0.9, 1.4, 1.1, 1.5, 0.85, 1.3,
  1.0, 1.5, 0.8, 1.4, 1.05, 1.5, 0.85, 1.35, 0.9, 1.5,
  0.8, 1.45, 0.95, 1.5, 0.85, 1.4, 0.8, 1.5, 0.9, 1.2]
const J0501_LINES = [[3770, LYA, 'r'], [4340, SIIV, 'r'], [4802, CIV, 'r'], [5918, CIII, 'r'], [8674, MGII, 'r']]

//---------------------- DESJ0600-4649
const J0600_BLUE = [0.70, 1.00, 0.62, 0.85, 0.45, 1.22, 0.88, 0.80, 0.72, 0.68,
  0.65, 0.72, 0.66, 0.68, 0.64, 0.58, 0.62, 0.60, 0.63, 0.62,
  0.66, 0.72, 0.84, 0.70, 0.64, 0.66, 0.62, 0.60, 0.62, 0.60,
  0.58, 0.60, 0.56, 0.58, 0.55, 0.59, 0.57, 0.60, 0.58, 0.61,
  0.63, 0.68, 0.56, 0.55, 0.53, 0.56, 0.54, 0.55, 0.53, 0.56,
  0.53, 0.55, 0.52, 0.54, 0.51, 0.53, 0.51, 0.54, 0.52, 0.53,
  0.51, 0.54, 0.52, 0.55, 0.58, 0.52, 0.50, 0.53, 0.49, 0.52,
  0.50, 0.53, 0.49, 0.52, 0.50, 0.51, 0.47, 0.45, 0.42, 0.47,
  0.52, 0.49, 0.53, 0.51, 0.55, 0.50, 0.64, 0.52, 0.56, 0.50,
  0.54, 0.60, 0.50, 0.48, 0.46, 0.38]
const J0600_GREEN = [0.15, 0.30, 0.05, 0.32, 0.05, 0.48, 0.22, 0.18, 0.16, 0.15,
  0.18, 0.12, 0.17, 0.16, 0.22, 0.60, 0.14, 0.16, 0.13, 0.17,
  0.18, 0.25, 0.34, 0.26, 0.20, 0.16, 0.14, 0.17, 0.13, 0.16,
  0.14, 0.17, 0.15, 0.18, 0.16, 0.17, 0.15, 0.18, 0.17, 0.19,
  0.22, 0.26, 0.15, 0.16, 0.13, 0.17, 0.15, 0.18, 0.15, 0.17,
  0.16, 0.14, 0.17, 0.13, 0.15, 0.12, 0.16, 0.14, 0.17, 0.15,
  0.16, 0.18, 0.17, 0.19, 0.16, 0.12, 0.09, 0.15, 0.18, 0.17,
  0.15, 0.18, 0.16, 0.14, 0.17, 0.15, 0.12, 0.06, 0.20, 0.18,
  0.21, 0.17, 0.22, 0.19, 0.24, 0.20, 0.35, 0.21, 0.18, 0.16,
  0.20, 0.15, 0.22, 0.14, 0.18, 0.05]
const J0600_RATIO = [4.0, 0.2, 3.5, 0.5, 4.0, 1.2, 2.5, 1.0, 3.0, 1.5,
  2.2, 1.3, 3.8, 1.5, 2.4, 1.2, 4.0, 1.6, 2.6, 1.8,
  3.0, 1.5, 4.0, 1.4, 2.2, 1.7, 1.4, 2.0, 1.5, 1.8,
  1.2, 0.5, 1.6, 2.2, 1.4, 1.8, 1.5, 2.5, 1.3, 3.2,
  1.5, 1.9, 1.3, 1.7, 1.4, 1.6, 1.2, 1.8, 1.4, 1.5,
  1.3, 1.7, 2.7, 1.4, 1.6, 1.2, 1.5, 1.3, 2.8, 1.4,
  1.3, 1.6, 1.2, 1.5, 1.1, 1.4, 1.3, 1.6, 1.2, 1.4,
  1.1, 1.3, 1.0, 1.4, 2.6, 1.2, 1.1, 1.3, 1.0, 1.2,
  1.1, 0.9, 1.3, 1.0, 1.2, 0.9, 1.1, 1.3, 0.8, 1.1,
  1.0, 0.8, 1.2, 0.9, 1.0, 0.8, 1.1, 0.9, 1.0, 0.7,
  0.9, 1.1, 0.8, 1.0, 0.7, 0.9, 1.2, 0.8, 0.9, 1.1,
  0.8, 1.0, 2.2, 0.9, 0.7, 1.2, 0.8, 1.8, 0.6, 1.0,
  0.9, 0.5, 3.5, 0.8, 1.0, 0.6, 0.9, 0.7, 1.5, 0.6,
  0.9, 0.6, 1.0, 0.7, 0.8, 0.5, 1.2, 0.6, 0.9, 4.0,
  0.7, 0.5, 0.9, 0.3, 0.8, 0.6, 1.1, 0.4, 0.8, 0.7,
  1.2, 0.5, 1.5, 0.8, 1.0, 0.3, 3.5, 0.7, 1.8, 3.0,
  0.6, 1.5, 2.8, 0.8, 1.2, 0.4, 3.5, 0.9, 1.4, 0.6,
  1.3, 0.4, 2.0, 1.0, 0.3, 2.5, 1.1, 0.8, 2.9, 1.2,
  1.8, 0.4, 2.5, 0.6, 1.5, 0.2, 1.2, 0.5, 0.9, 0.4]
const J0600_LINES = [[3903, LYA, 'r'], [4972, CIV, 'r'], [6128, CIII, 'r']]

//---------------------- DESJ2349-4518
const J2349_BLUE = [0.25, 0.32, 0.15, 0.28, 0.14, 0.26, 0.40, 0.35, 0.20, 0.32,
  0.26, 0.30, 0.24, 0.28, 0.18, 0.30, 0.40, 0.12, 0.95, 0.52,
  0.40, 0.34, 0.33, 0.29, 0.27, 0.29, 0.28, 0.27, 0.30, 0.29,
  0.28, 0.27, 0.25, 0.27, 0.26, 0.29, 0.27, 0.32, 0.36, 0.42,
  0.56, 0.34, 0.31, 0.29, 0.28, 0.26, 0.23, 0.22, 0.23, 0.21,
  0.22, 0.21, 0.22, 0.20, 0.14, 0.20, 0.19, 0.20, 0.18, 0.20,
  0.19, 0.20, 0.21, 0.22, 0.20, 0.15, 0.09, 0.17, 0.18, 0.17,
  0.16, 0.18, 0.17, 0.15, 0.18, 0.16, 0.14, 0.17, 0.16, 0.10,
  0.14, 0.15, 0.13, 0.16, 0.14, 0.15, 0.12, 0.14, 0.13, 0.15,
  0.13, 0.14, 0.12, 0.20, 0.13, 0.12]
const J2349_GREEN = [0.03, 0.08, 0.00, 0.04, 0.01, 0.05, 0.07, 0.03, 0.05, 0.01,
  0.03, 0.00, 0.04, 0.02, 0.03, 0.01, 0.03, 0.02, 0.15, 0.05,
  0.04, 0.02, 0.03, 0.01, 0.03, 0.02, 0.04, 0.01, 0.03, 0.02,
  0.03, 0.01, 0.02, 0.03, 0.01, 0.03, 0.02, 0.04, 0.03, 0.05,
  0.09, 0.04, 0.03, 0.02, 0.04, 0.01, 0.02, 0.03, 0.01, 0.03,
  0.02, 0.04, 0.01, 0.03, 0.02, 0.05, 0.01, 0.03, 0.02, 0.03,
  0.01, 0.03, 0.02, 0.03, 0.02, 0.01, -0.01, 0.02, 0.04, 0.01,
  0.03, 0.05, 0.02, 0.04, 0.01, 0.03, 0.00, 0.04, 0.02, 0.03,
  0.01, 0.04, 0.02, 0.05, 0.03, 0.01, 0.03, 0.05, 0.02, 0.04,
  0.02, 0.05, 0.01, 0.03, 0.04, 0.06]
const J2349_RATIO = [10, 18, 2, 20, 6, 15, 0, 19, 8, 14,
  3, 20, 9, 16, 4, 18, 7, 12, 2, 17,
  10, 5, 16, 8, 20, 4, 13, 9, 18, 6,
  14, 3, 11, 7, 19, 5, 12, 8, 15, 4,
  7, 11, 6, 9, 8, 10, 15, 6, 12, 9,
  16, 8, 13, 5, 18, 10, 12, 7, 19, 9,
  14, 6, 11, 16, 8, 13, 5, 10, 17, 7,
  12, 9, 15, 6, 11, 8, 14, 10, 9, 12,
  7, 10, 6, 9, 13, 18, 10, 16, 12, 20,
  9, 15, 11, 18, 7, 14, 19, 10, 13, 16,
  8, 17, 11, 20, 9, 14, 7, 19, 12, 10,
  15, 8, 12, 18, 6, 13, 9, 16, 5, 11,
  10, 4, 14, 7, 17, 9, 12, 5, 15, 8,
  6, 11, 3, 14, 8, 10, 2, 12, 7, 9,
  13, 4, 10, 18, 6, 11, 3, 15, 8, 12,
  5, 9, 2, 13, 7, 10, 1, 12, 6, 8,
  3, 10, 1, 8, 5, 12, 0, 9, 4, 7,
  2, 8, 0, 11, 3, 6, 1, 9, 2, 5,
  4, 0, 7, 2, 5, 0, 8, 1, 6, 2]
const J2349_LINES = [[4742, LYA, 'r'], [6041, CIV, 'r'], [7445, CIII, 'r']]

// y tick marks of flux panels
const YT_06 = [0, 0.1, 0.2, 0.3, 0.4, 0.5, 0.6]
const YT_08 = [0, 0.2, 0.4, 0.6, 0.8]
const YT_10 = [0, 0.2, 0.4, 0.6, 0.8, 1.0]
const YT_12 = [0, 0.2, 0.4, 0.6, 0.8, 1.0, 1.2]
const YT_14 = [0, 0.2, 0.4, 0.6, 0.8, 1.0, 1.2, 1.4]

const BLUE = '#0000ff', GREEN = '#008000', RED = '#ff0000', CYAN = '#00bfbf', GREY = '#808080'

// page geometry
const COLS = [[90, 977], [1089, 1975]]
const ROWS = [41, 484, 928, 1371, 1815]
const TOP_H = 244, BOT_H = 112

Chart.defaults.font.family = '"DejaVu Serif", serif'
Chart.defaults.font.size = 19
Chart.defaults.color = '#000'

function waves(base, fixes)
{
    const w = base.slice()
    for (const [i, v] of fixes) w[i] = v
    return w
}

const panels = [
    {name: 'DESJ0053-2012 (z=3.80)', col: 0, row: 0, wave: WAVE, xr: [3658, 9318], xt: XTICKS,
     top: [-0.093, 1.3, YT_12], series: [[J0053_BLUE, BLUE, RWAVE], [J0053_GREEN, GREEN], [J0053_RED, RED], [J0053_CYAN, CYAN]],
     bot: [1.0, 2.2, [1.0, 1.5, 2.0], 1], rwave: RWAVE, ratio: J0053_RATIO, lines: J0053_LINES},
    {name: 'DESJ0112-1650 (z=0.99)', col: 1, row: 0, wave: WAVE_0112, xr: [4710, 10000], xt: XTICKS_0112,
     top: [0, 0.70, YT_06], series: [[J0112_BLUE, BLUE], [J0112_GREEN, GREEN]],
     bot: [1.0, 1.8, [1.0, 1.2, 1.4, 1.6], 1], rwave: WAVE_0112, ratio: J0112_RATIO, lines: J0112_LINES},
    {name: 'DESJ0150-4041 (z=1.85)', col: 0, row: 1, wave: waves(WAVE, FIX_0150), xr: [3658, 9318], xt: XTICKS,
     top: [-0.1, 0.9, YT_08], series: [[J0150_BLUE, BLUE], [J0150_GREEN, GREEN]],
     bot: [1, 7.95, [1, 3, 5, 7], 0], rwave: RWAVE, ratio: J0150_RATIO, lines: J0150_LINES},
    {name: 'DESJ0245-0556 (z=1.54)', col: 1, row: 1, wave: waves(WAVE, FIX_0245), xr: [3658, 9318], xt: XTICKS,
     top: [-0.1, 1.0, YT_08], series: [[J0245_BLUE, BLUE], [J0245_GREEN, GREEN]],
     bot: [0.6, 1.9, [0.6, 1.0, 1.4], 1], rwave: RWAVE, ratio: J0245_RATIO, lines: J0245_LINES},
    {name: 'DESJ0246-1845 (z=1.86)', col: 0, row: 2, wave: waves(WAVE, FIX_0246), xr: [3658, 9318], xt: XTICKS,
     top: [-0.1, 0.9, YT_08], series: [[J0246_BLUE, BLUE], [J0246_GREEN, GREEN]],
     bot: [1.1, 2.5, [1.4, 1.8, 2.2], 1], rwave: RWAVE, ratio: J0246_RATIO, lines: J0246_LINES},
    {name: 'DESJ0340-2545 (z=1.68)', col: 1, row: 2, wave: waves(WAVE, FIX_0340), xr: [3658, 9318], xt: XTICKS,
     top: [-0.1, 0.9, YT_08], series: [[J0340_BLUE, BLUE], [J0340_GREEN, GREEN]],
     bot: [1, 6, [1, 2, 3, 4, 5, 6], 0], rwave: RWAVE, ratio: J0340_RATIO, lines: J0340_LINES},
    {name: 'DESJ0407-1931 (z=2.26)', col: 0, row: 3, wave: waves(WAVE, FIX_0407), xr: [3658, 9318], xt: XTICKS,
     top: [-0.11, 1.5, YT_14], series: [[J0407_BLUE, BLUE], [J0407_GREEN, GREEN]],
     bot: [0.12, 3.94, [0.5, 1.5, 2.5, 3.5], 1], rwave: WAVE, ratio: J0407_RATIO, lines: J0407_LINES},
    {name: 'DESJ0501-4118 (z=2.10)', col: 1, row: 3, wave: waves(WAVE, FIX_0501), xr: [3658, 9318], xt: XTICKS,
     top: [-0.1, 1.4, YT_14], series: [[J0501_BLUE, BLUE], [J0501_GREEN, GREEN]],
     bot: [0.805, 1.5, [1.0, 1.2, 1.4], 1], rwave: RWAVE, ratio: J0501_RATIO, lines: J0501_LINES},
    {name: 'DESJ0600-4649 (z=2.21)', col: 0, row: 4, wave: waves(WAVE, FIX_0600), xr: [3658, 9318], xt: XTICKS,
     top: [-0.1, 1.4, YT_12], series: [[J0600_BLUE, BLUE], [J0600_GREEN, GREEN]],
     bot: [0, 4, [0, 1, 2, 3], 0], rwave: RWAVE, ratio: J0600_RATIO, lines: J0600_LINES},
    {name: 'DESJ2349-4518 (z=2.90)', col: 1, row: 4, wave: waves(WAVE, FIX_2349), xr: [3658, 9318], xt: XTICKS,
     top: [-0.1, 1.1, YT_10], series: [[J2349_BLUE, BLUE], [J2349_GREEN, GREEN]],
     bot: [0, 20, [0, 5, 10, 15, 20], 0], rwave: RWAVE, ratio: J2349_RATIO, lines: J2349_LINES}
]

const LABEL_FONTS = {
    n: '25px "Liberation Sans", Arial, sans-serif',
    s: '18px "Liberation Sans", Arial, sans-serif',
    m: 'italic 25px "DejaVu Serif", serif'
}

// frame, inward ticks and the dashed emission-line markers
const marks = {
    id: 'marks',
    afterDatasetsDraw(chart, args, opts)
    {
        const ctx = chart.ctx
        const a = chart.chartArea
        const x = chart.scales.x, y = chart.scales.y

        if (opts.lines) {
            ctx.save()
            ctx.beginPath()
            ctx.rect(a.left, a.top, a.right - a.left, a.bottom - a.top)
            ctx.clip()
            ctx.strokeStyle = '#000'
            ctx.fillStyle = '#000'
            ctx.lineWidth = 3
            for (const [w, label, side] of opts.lines) {
                const px = x.getPixelForValue(w)
                ctx.setLineDash([13, 13])
                ctx.beginPath()
                ctx.moveTo(px, a.bottom)
                ctx.lineTo(px, a.top + 12)
                ctx.stroke()
                if (!label) continue
                ctx.setLineDash([])
                let width = 0
                for (const [t, f] of label) { ctx.font = LABEL_FONTS[f]; width += ctx.measureText(t).width }
                let tx = side === 'l' ? px - 6 - width : px + 6
                ctx.textAlign = 'left'
                ctx.textBaseline = 'alphabetic'
                for (const [t, f] of label) {
                    ctx.font = LABEL_FONTS[f]
                    ctx.fillText(t, tx, a.top + 38)
                    tx += ctx.measureText(t).width
                }
            }
            ctx.restore()
        }

        ctx.save()
        ctx.strokeStyle = '#000'
        ctx.lineWidth = 1.5
        ctx.beginPath()
        for (const v of opts.xticks) {
            const px = x.getPixelForValue(v)
            ctx.moveTo(px, a.top); ctx.lineTo(px, a.top + 9)
            ctx.moveTo(px, a.bottom); ctx.lineTo(px, a.bottom - 9)
        }
        for (const t of y.ticks) {
            const py = y.getPixelForValue(t.value)
            ctx.moveTo(a.left, py); ctx.lineTo(a.left + 9, py)
            ctx.moveTo(a.right, py); ctx.lineTo(a.right - 9, py)
        }
        ctx.stroke()
        ctx.lineWidth = 2.5
        ctx.strokeRect(a.left, a.top, a.right - a.left, a.bottom - a.top)
        ctx.restore()
    }
}

function addCanvas(left, top, w, h)
{
    const c = document.createElement('canvas')
    c.width = w
    c.height = h
    c.style.left = left + 'px'
    c.style.top = top + 'px'
    c.style.width = w + 'px'
    c.style.height = h + 'px'
    document.getElementById('page').appendChild(c)
    return c.getContext('2d')
}

function makeChart(ctx, datasets, p, yr, showX, lines, pad)
{
    return new Chart(ctx, {
        type: 'line',
        data: {datasets: datasets},
        plugins: [marks],
        options: {
            responsive: false,
            devicePixelRatio: 1,
            animation: false,
            events: [],
            layout: {padding: pad},
            elements: {point: {radius: 0}, line: {tension: 0}},
            plugins: {
                legend: {display: false},
                tooltip: {enabled: false},
                marks: {lines: lines, xticks: p.xt}
            },
            scales: {
                x: {
                    type: 'linear', min: p.xr[0], max: p.xr[1], display: showX,
                    grid: {display: false, drawTicks: false}, border: {display: false},
                    ticks: {padding: 12, maxRotation: 0, callback: v => String(v)},
                    afterBuildTicks: s => { s.ticks = p.xt.map(v => ({value: v})) },
                    afterFit: s => { s.height = showX ? 50 : 0; s.paddingLeft = 0; s.paddingRight = 0 }
                },
                y: {
                    type: 'linear', min: yr[0], max: yr[1],
                    grid: {display: false, drawTicks: false}, border: {display: false},
                    ticks: {padding: 10, callback: v => v.toFixed(yr[3])},
                    afterBuildTicks: s => { s.ticks = yr[2].map(v => ({value: v})) },
                    afterFit: s => { s.width = 80; s.paddingTop = 0; s.paddingBottom = 0 }
                }
            }
        }
    })
}

function main()
{
    const page = document.getElementById('page')

    for (const p of panels) {
        const [axL, axR] = COLS[p.col]
        const top = ROWS[p.row]
        const mid = top + TOP_H
        const w = axR - axL + 80 + 40

        // spectra panel
        const ctxTop = addCanvas(axL - 80, top - 20, w, TOP_H + 20 + 15)
        const flux = p.series.map(([vals, color, xs]) => ({
            data: (xs || p.wave).map((x, i) => ({x: x, y: vals[i]})),
            borderColor: color,
            borderWidth: 2.4
        }))
        makeChart(ctxTop, flux, p, [p.top[0], p.top[1], p.top[2], 1], false, p.lines,
            {left: 0, right: 40, top: 20, bottom: 15})

        // ratio panel
        const ctxBot = addCanvas(axL - 80, mid - 20, w, BOT_H + 20 + 50)
        const ratio = [{
            data: p.rwave.map((x, i) => ({x: x, y: p.ratio[i]})),
            borderColor: GREY,
            borderWidth: 2.4
        }]
        makeChart(ctxBot, ratio, p, p.bot, true, null,
            {left: 0, right: 40, top: 20, bottom: 0})

        // title
        const t = document.createElement('div')
        t.className = 'title'
        t.textContent = p.name
        t.style.left = ((axL + axR) / 2 - 350) + 'px'
        t.style.top = (top - 27) + 'px'
        page.appendChild(t)
    }

    for (const [axL, axR] of COLS) {
        const xl = document.createElement('div')
        xl.className = 'xlabel'
        xl.innerHTML = 'wavelength (<i>Å</i>)'
        xl.style.left = ((axL + axR) / 2 - 350) + 'px'
        xl.style.top = '2218px'
        page.appendChild(xl)
    }
}

main()
</script>
</body>
</html>
